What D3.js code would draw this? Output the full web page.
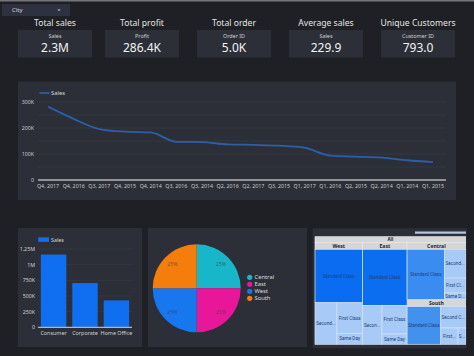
<!DOCTYPE html>
<html><head><meta charset="utf-8">
<script src="https://cdn.jsdelivr.net/npm/d3@7"></script>
<style>
html,body{margin:0;padding:0;background:#1f2025;overflow:hidden;}
svg{display:block;font-family:"Noto Sans","Open Sans",sans-serif;}
</style></head>
<body>
<svg id="c" width="474" height="356"></svg>
<script>
// ---------- DATA ----------
const kpiTitles = ["Total sales","Total profit","Total order","Average sales","Unique Customers"];
const kpiLabels = ["Sales","Profit","Order ID","Sales","Customer ID"];
const kpiValues = ["2.3M","286.4K","5.0K","229.9","793.0"];

const quarters = ["Q4, 2017","Q4, 2016","Q3, 2017","Q4, 2015","Q4, 2014","Q3, 2016","Q3, 2014","Q2, 2016",
                  "Q2, 2017","Q3, 2015","Q1, 2017","Q1, 2016","Q2, 2015","Q2, 2014","Q1, 2014","Q1, 2015"];
const quarterSales = [282000,235000,196000,186000,183000,147000,146000,137000,
                      135000,132000,124000,94000,90000,86000,76000,69000];
const lineTicks = [0,100000,200000,300000];

const segments = ["Consumer","Corporate","Home Office"];
const segmentSales = [1161401,706146,429653];
const barTicks = [0,250000,500000,750000,1000000,1250000];

const regions = ["Central","East","West","South"];
const regionShare = [25,25,25,25];
const regionColors = ["#17b6c9","#e8179a","#1677ef","#f57d0c"];

const tmRegions = ["West","East","Central","South"];
const shipModes = ["Standard Class","Second Class","First Class","Same Day"];
const tmValues = [
  [408000,146000,126000,45000],  // West
  [403000,120000,114000,42000],  // East
  [320000,104000,54000,23000],   // Central
  [225000,95000,50000,22000]     // South
];

// ---------- SETUP ----------
const svg = d3.select("#c");
const PANEL = "#2c2f38";
const fmtK = d => d===0 ? "0" : d3.format("~s")(d).replace("k","K");

svg.append("rect").attr("x",0).attr("y",0).attr("width",474).attr("height",356).attr("fill","#1f2025");
svg.append("rect").attr("x",0).attr("y",0).attr("width",474).attr("height",1.5).attr("fill","#74767c");

// City dropdown
svg.append("rect").attr("x",2).attr("y",4).attr("width",68).attr("height",12).attr("fill","#2e3140");
svg.append("text").attr("x",12).attr("y",12.2).attr("fill","#d8d8d8").attr("font-size",6).text("City");
svg.append("path").attr("d","M57.5,9.5 L60.5,9.5 L59,11 Z").attr("fill","#e0e0e0");

// ---------- KPIs ----------
const boxX = [18,105,197,289,381], boxW = 74;
kpiTitles.forEach((t,i)=>{
  const cx = boxX[i]+boxW/2;
  svg.append("text").attr("x",cx).attr("y",26).attr("text-anchor","middle")
     .attr("fill","#e4e4e4").attr("font-size",8.6).text(t);
  svg.append("rect").attr("x",boxX[i]).attr("y",30).attr("width",boxW).attr("height",27.5).attr("fill",PANEL);
  svg.append("text").attr("x",cx).attr("y",38.2).attr("text-anchor","middle")
     .attr("fill","#cfd0d4").attr("font-size",5.4).text(kpiLabels[i]);
  svg.append("text").attr("x",cx).attr("y",52).attr("text-anchor","middle")
     .attr("fill","#f2f2f2").attr("font-size",12).text(kpiValues[i]);
});

// ---------- LINE CHART ----------
svg.append("rect").attr("x",18).attr("y",81.5).attr("width",438).attr("height",118.5).attr("fill",PANEL);
const lx = d3.scalePoint().domain(quarters).range([35.2,445.8]).padding(0.5);
const ly = d3.scaleLinear().domain([0,300000]).range([180,102]);
const lg = svg.append("g");
lg.selectAll("line.g").data(d3.range(50000,300001,50000)).join("line")
  .attr("x1",38).attr("x2",446).attr("y1",d=>ly(d)).attr("y2",d=>ly(d))
  .attr("stroke","#3a3d48").attr("stroke-width",0.6);
lg.selectAll("text.y").data(lineTicks).join("text")
  .attr("x",34).attr("y",d=>ly(d)+2).attr("text-anchor","end")
  .attr("fill","#c9cacd").attr("font-size",5.3).text(fmtK);
lg.append("line").attr("x1",38).attr("x2",446).attr("y1",180).attr("y2",180)
  .attr("stroke","#b5b6ba").attr("stroke-width",1.3);
lg.selectAll("text.x").data(quarters).join("text")
  .attr("x",d=>lx(d)).attr("y",188).attr("text-anchor","middle")
  .attr("fill","#c9cacd").attr("font-size",5.3).text(d=>d);
lg.append("path").datum(quarterSales)
  .attr("d",d3.line().x((d,i)=>lx(quarters[i])).y(d=>ly(d)).curve(d3.curveMonotoneX))
  .attr("fill","none").attr("stroke","#2d5ea8").attr("stroke-width",1.8);
lg.append("line").attr("x1",39.5).attr("x2",49.5).attr("y1",93).attr("y2",93)
  .attr("stroke","#2d5ea8").attr("stroke-width",1.8);
lg.append("text").attr("x",51).attr("y",95).attr("fill","#d8d8d8").attr("font-size",5.8).text("Sales");

// ---------- BAR CHART ----------
svg.append("rect").attr("x",18).attr("y",228).attr("width",124).attr("height",119).attr("fill",PANEL);
const bx = d3.scaleBand().domain(segments).range([38,132]).paddingInner(0.19).paddingOuter(0.09);
const by = d3.scaleLinear().domain([0,1250000]).range([327.3,249]);
const bg = svg.append("g");
bg.selectAll("line.g").data(barTicks.slice(1)).join("line")
  .attr("x1",38).attr("x2",132).attr("y1",d=>by(d)).attr("y2",d=>by(d))
  .attr("stroke","#393c47").attr("stroke-width",0.6);
bg.selectAll("text.y").data(barTicks).join("text")
  .attr("x",35).attr("y",d=>by(d)+2).attr("text-anchor","end")
  .attr("fill","#d0d1d4").attr("font-size",5.3)
  .text(d=> d===0?"0": d>=1000000 ? d3.format("~")(d/1e6)+"M" : d3.format("~")(d/1000)+"K");
bg.selectAll("rect.bar").data(segmentSales).join("rect")
  .attr("x",(d,i)=>bx(segments[i])).attr("width",bx.bandwidth())
  .attr("y",d=>by(d)).attr("height",d=>by(0)-by(d)).attr("fill","#0f6ff0");
bg.append("line").attr("x1",38).attr("x2",132).attr("y1",327.3).attr("y2",327.3)
  .attr("stroke","#b5b6ba").attr("stroke-width",1.2);
bg.selectAll("text.x").data(segments).join("text")
  .attr("x",d=>bx(d)+bx.bandwidth()/2).attr("y",334.5).attr("text-anchor","middle")
  .attr("fill","#d0d1d4").attr("font-size",5.4).text(d=>d);
bg.append("rect").attr("x",38.3).attr("y",237.3).attr("width",10.7).attr("height",4.6).attr("fill","#0f6ff0");
bg.append("text").attr("x",51).attr("y",241.7).attr("fill","#d8d8d8").attr("font-size",5.3).text("Sales");

// ---------- PIE ----------
svg.append("rect").attr("x",148).attr("y",228).attr("width",159).attr("height",119).attr("fill",PANEL);
const pie = d3.pie().sort(null).value(d=>d)(regionShare);
const R = 44;
const pg = svg.append("g").attr("transform","translate(196.7,288.3)");
pg.selectAll("path").data(pie).join("path")
  .attr("d",d3.arc().innerRadius(0).outerRadius(R)).attr("fill",(d,i)=>regionColors[i]);
const lArc = d3.arc().innerRadius(R*0.78).outerRadius(R*0.78);
pg.selectAll("text").data(pie).join("text")
  .attr("transform",d=>`translate(${lArc.centroid(d)})`).attr("dy","0.35em")
  .attr("text-anchor","middle").attr("fill","#3d3f48").attr("fill-opacity",0.7).attr("font-size",5.2)
  .text(d=>d3.format(".0%")(d.value/d3.sum(regionShare)));
const leg = svg.append("g");
regions.forEach((r,i)=>{
  leg.append("circle").attr("cx",249.7).attr("cy",277.3+i*7).attr("r",2.6).attr("fill",regionColors[i]);
  leg.append("text").attr("x",254.5).attr("y",279.3+i*7).attr("fill","#dcdcdc").attr("font-size",5.8).text(r);
});

// ---------- TREEMAP ----------
svg.append("rect").attr("x",312.7).attr("y",228.3).attr("width",154).attr("height",120).attr("fill",PANEL);
svg.append("rect").attr("x",415).attr("y",231.5).attr("width",51).attr("height",2.2).attr("fill","#b8c6db");

const tmData = {name:"All", children: tmRegions.map((r,i)=>({name:r,
   children: shipModes.map((s,j)=>({name:s, value: tmValues[i][j]}))}))};
const root = d3.hierarchy(tmData).sum(d=>d.value||0).sort((a,b)=>b.value-a.value);

// strip tiling: each child in turn takes a strip across the longer side of the remaining area
function stripTile(parent, x0, y0, x1, y1){
  let rest = parent.value;
  const kids = parent.children;
  kids.forEach((c,i)=>{
    if(i===kids.length-1){ c.x0=x0;c.y0=y0;c.x1=x1;c.y1=y1; return; }
    const f = rest ? c.value/rest : 0;
    if((x1-x0) >= (y1-y0)){ const xm=x0+(x1-x0)*f; c.x0=x0;c.x1=xm;c.y0=y0;c.y1=y1; x0=xm; }
    else { const ym=y0+(y1-y0)*f; c.x0=x0;c.x1=x1;c.y0=y0;c.y1=ym; y0=ym; }
    rest -= c.value;
  });
}
d3.treemap().tile(stripTile).size([150.7,107.6]).round(false)
  .paddingTop(d=> d.depth===0 ? 5.6 : 7)(root);

const tmColor = d3.scaleLinear().domain([150000,225000,330000,405000])
  .range(["#a7caf6","#4391ee","#3a8cf0","#0a6cf0"]).clamp(true);

const tg = svg.append("g").attr("transform","translate(315,236.7)");
// headers
root.descendants().filter(d=>d.children).forEach(d=>{
  const h = d.depth===0 ? 5.6 : 7;
  tg.append("rect").attr("x",d.x0).attr("y",d.y0).attr("width",d.x1-d.x0).attr("height",h)
    .attr("fill","#d6d6d6").attr("stroke","#eef2f8").attr("stroke-width",0.6);
  tg.append("text").attr("x",(d.x0+d.x1)/2).attr("y",d.y0+h/2 - (d.depth===0?0.4:0)).attr("dy","0.35em")
    .attr("text-anchor","middle").attr("fill","#1f2330").attr("font-size",d.depth===0?4.5:5.1)
    .attr("font-weight","bold").text(d.data.name);
});
const leaves = tg.selectAll("g.leaf").data(root.leaves()).join("g");
leaves.append("rect").attr("x",d=>d.x0).attr("y",d=>d.y0)
  .attr("width",d=>d.x1-d.x0).attr("height",d=>d.y1-d.y0)
  .attr("fill",d=>tmColor(d.value)).attr("stroke","#d9e6f8").attr("stroke-width",0.7);
leaves.append("text").attr("x",d=>(d.x0+d.x1)/2).attr("y",d=>(d.y0+d.y1)/2).attr("dy","0.35em")
  .attr("text-anchor","middle").attr("fill","#24407a").attr("font-size",4.7)
  .attr("font-family","'Liberation Sans Narrow',Roboto,sans-serif")
  .each(function(d){
    const el = d3.select(this), maxW = d.x1-d.x0-1;
    let t = d.data.name; el.text(t);
    if(this.getComputedTextLength() > maxW){
      while(t.length>1){ t=t.slice(0,-1); el.text(t.trim()+"..."); if(this.getComputedTextLength()<=maxW) break; }
    }
  });
</script>
</body></html>
